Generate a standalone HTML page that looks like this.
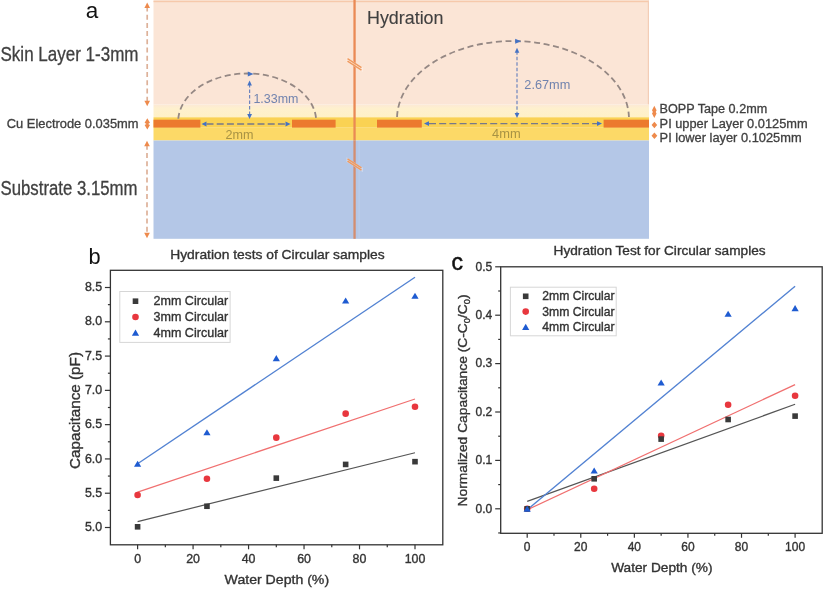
<!DOCTYPE html>
<html><head><meta charset="utf-8"><title>Hydration figure</title>
<style>html,body{margin:0;padding:0;background:#fff;} svg{display:block;font-family:"Liberation Sans", Arial, sans-serif;}</style>
</head><body>
<svg width="825" height="589" viewBox="0 0 825 589">
<rect width="825" height="589" fill="#fff"/>
<rect x="153.5" y="0" width="495.5" height="104.5" fill="#FBE5D6"/>
<rect x="153.5" y="0.8" width="495.5" height="1.4" fill="#F6C9AB"/>
<rect x="647.8" y="0.8" width="1.2" height="103.7" fill="#F3CDB6"/>
<defs><linearGradient id="gb" x1="0" y1="0" x2="0" y2="1"><stop offset="0" stop-color="#FCE9D6"/><stop offset="0.3" stop-color="#FEF0CE"/><stop offset="1" stop-color="#FFF1C6"/></linearGradient></defs>
<rect x="153.5" y="104.5" width="495.5" height="12.8" fill="url(#gb)"/>
<rect x="153.5" y="117.3" width="495.5" height="10.4" fill="#FAD253"/>
<rect x="153.5" y="127.7" width="495.5" height="12.8" fill="#FCD967"/>
<rect x="153.5" y="140.5" width="495.5" height="98.3" fill="#B4C7E7"/>
<rect x="153.5" y="119.7" width="46.9" height="7.9" fill="#EC7A2E"/>
<rect x="292" y="119.7" width="43.6" height="7.9" fill="#EC7A2E"/>
<rect x="377" y="119.7" width="44.8" height="7.9" fill="#EC7A2E"/>
<rect x="603.6" y="119.7" width="45.4" height="7.9" fill="#EC7A2E"/>
<rect x="353.4" y="0" width="2.3" height="140.5" fill="#EA8A55"/>
<rect x="353.4" y="140.5" width="2.3" height="98.3" fill="#D38E70"/>
<rect x="358.5" y="140.5" width="1.2" height="98.3" fill="#C0D2EE" opacity="0.6"/>
<path d="M346.5,57.1 L363,67.6 L363,72.1 L346.5,61.6 Z" fill="#FDF1E8" opacity="0.7"/>
<line x1="347.5" y1="58.7" x2="361.5" y2="67.7" stroke="#F09A5E" stroke-width="1.5"/>
<line x1="347.5" y1="61.1" x2="361.5" y2="70.1" stroke="#F09A5E" stroke-width="1.5"/>
<path d="M346.5,157.2 L363,167.7 L363,172.2 L346.5,161.7 Z" fill="#D6E0F2" opacity="0.7"/>
<line x1="347.5" y1="158.8" x2="361.5" y2="167.8" stroke="#F09A5E" stroke-width="1.5"/>
<line x1="347.5" y1="161.2" x2="361.5" y2="170.2" stroke="#F09A5E" stroke-width="1.5"/>
<path d="M178.30,118.8 A69,47.9 0 0 1 316.10,118.8" fill="none" stroke="#958884" stroke-width="1.8" stroke-dasharray="6 3.6"/>
<path d="M397.04,117 A116,78 0 0 1 628.96,117" fill="none" stroke="#958884" stroke-width="1.8" stroke-dasharray="6 3.6"/>
<line x1="249.6" y1="84" x2="249.6" y2="115" stroke="#6D84BE" stroke-width="1.2" stroke-dasharray="3.5 2"/>
<path d="M247.3,85.5 L249.6,80.5 L251.9,85.5 Z" fill="#4472C4"/>
<path d="M247.2,114 L249.6,119 L252.0,114 Z" fill="#4472C4"/>
<path d="M247.8,71.5 L253.6,74 L247.8,76.5 Z" fill="#4472C4"/>
<line x1="517" y1="51.2" x2="517" y2="114" stroke="#6D84BE" stroke-width="1.2" stroke-dasharray="3.5 2"/>
<path d="M514.7,52.7 L517,47.7 L519.3,52.7 Z" fill="#4472C4"/>
<path d="M514.6,113 L517,118 L519.4,113 Z" fill="#4472C4"/>
<path d="M515.2,38.7 L521,41.2 L515.2,43.7 Z" fill="#4472C4"/>
<line x1="206.5" y1="124" x2="285.5" y2="124" stroke="#76788A" stroke-width="1.3" stroke-dasharray="7 3.2"/>
<path d="M206.5,121.6 L201.5,124 L206.5,126.4 Z" fill="#4472C4"/>
<path d="M285.5,121.6 L290.5,124 L285.5,126.4 Z" fill="#4472C4"/>
<line x1="429" y1="123.6" x2="597" y2="123.6" stroke="#76788A" stroke-width="1.3" stroke-dasharray="7 3.2"/>
<path d="M429,121.2 L424,123.6 L429,126.0 Z" fill="#4472C4"/>
<path d="M597,121.2 L602,123.6 L597,126.0 Z" fill="#4472C4"/>
<text x="253.4" y="103.2" font-size="12.5" fill="#7183AE" text-anchor="start" textLength="45" lengthAdjust="spacingAndGlyphs" >1.33mm</text>
<text x="524.3" y="89.2" font-size="12.5" fill="#7183AE" text-anchor="start" textLength="46" lengthAdjust="spacingAndGlyphs" >2.67mm</text>
<text x="225.5" y="138.5" font-size="12" fill="#A89344" text-anchor="start" textLength="28" lengthAdjust="spacingAndGlyphs" >2mm</text>
<text x="492.1" y="138.1" font-size="12" fill="#A89344" text-anchor="start" textLength="28.6" lengthAdjust="spacingAndGlyphs" >4mm</text>
<text x="367" y="23.8" font-size="17.5" fill="#404040" text-anchor="start" textLength="76.5" lengthAdjust="spacingAndGlyphs"  stroke="#404040" stroke-width="0.12">Hydration</text>
<text x="85.8" y="17.8" font-size="22.5" fill="#111" text-anchor="start" >a</text>
<text x="0.5" y="60.5" font-size="20.3" fill="#404040" text-anchor="start" textLength="138" lengthAdjust="spacingAndGlyphs"  stroke="#404040" stroke-width="0.3">Skin Layer 1-3mm</text>
<text x="6.8" y="128.3" font-size="12.4" fill="#404040" text-anchor="start" textLength="131.8" lengthAdjust="spacingAndGlyphs"  stroke="#404040" stroke-width="0.3">Cu Electrode 0.035mm</text>
<text x="0.5" y="194.8" font-size="19.6" fill="#404040" text-anchor="start" textLength="137" lengthAdjust="spacingAndGlyphs"  stroke="#404040" stroke-width="0.3">Substrate 3.15mm</text>
<text x="659.6" y="112.5" font-size="12.5" fill="#404040" text-anchor="start" textLength="107.6" lengthAdjust="spacingAndGlyphs"  stroke="#404040" stroke-width="0.3">BOPP Tape 0.2mm</text>
<text x="659.6" y="128" font-size="12.5" fill="#404040" text-anchor="start" textLength="148" lengthAdjust="spacingAndGlyphs"  stroke="#404040" stroke-width="0.3">PI upper Layer 0.0125mm</text>
<text x="659.6" y="141.5" font-size="12.5" fill="#404040" text-anchor="start" textLength="142" lengthAdjust="spacingAndGlyphs"  stroke="#404040" stroke-width="0.3">PI lower layer 0.1025mm</text>
<line x1="147.2" y1="6.5" x2="147.2" y2="102.2" stroke="#DDB199" stroke-width="1.7" stroke-dasharray="5 3.2"/>
<path d="M144.4,8.0 L147.2,2.5 L150.0,8.0 Z" fill="#EE8A4C"/>
<path d="M144.4,100.7 L147.2,106.2 L150.0,100.7 Z" fill="#EE8A4C"/>
<line x1="147" y1="144.8" x2="147" y2="234.2" stroke="#DDB199" stroke-width="1.7" stroke-dasharray="5 3.2"/>
<path d="M144.2,146.3 L147,140.8 L149.8,146.3 Z" fill="#EE8A4C"/>
<path d="M144.2,232.7 L147,238.2 L149.8,232.7 Z" fill="#EE8A4C"/>
<path d="M147.3,118.2 L150.0,122.7 L148.1,123.9 L150.0,125.1 L147.3,129.6 L144.6,125.1 L146.5,123.9 L144.6,122.7 Z" fill="#EE8A4C"/>
<path d="M654.3,105.8 L656.6,110.3 L655.7,111.9 L656.6,113.5 L654.3,118 L652.0,113.5 L652.9,111.9 L652.0,110.3 Z" fill="#EE8A4C"/>
<path d="M654.4,121.8 L657.2,125.0 L657.2,125.0 L657.2,125.0 L654.4,128.2 L651.6,125.0 L651.6,125.0 L651.6,125.0 Z" fill="#EE8A4C"/>
<path d="M654.4,132.4 L657.3,135.7 L657.3,135.7 L657.3,135.7 L654.4,139 L651.5,135.7 L651.5,135.7 L651.5,135.7 Z" fill="#EE8A4C"/>
<rect x="110.4" y="270.3" width="332.4" height="274.5" fill="none" stroke="#333333" stroke-width="1.3"/>
<line x1="137.6" y1="544.8" x2="137.6" y2="549.3" stroke="#333333" stroke-width="1.2"/>
<text x="137.6" y="562.6" font-size="12.4" fill="#333" text-anchor="middle" stroke="#333" stroke-width="0.35">0</text>
<line x1="193.08" y1="544.8" x2="193.08" y2="549.3" stroke="#333333" stroke-width="1.2"/>
<text x="193.08" y="562.6" font-size="12.4" fill="#333" text-anchor="middle" stroke="#333" stroke-width="0.35">20</text>
<line x1="248.56" y1="544.8" x2="248.56" y2="549.3" stroke="#333333" stroke-width="1.2"/>
<text x="248.56" y="562.6" font-size="12.4" fill="#333" text-anchor="middle" stroke="#333" stroke-width="0.35">40</text>
<line x1="304.04" y1="544.8" x2="304.04" y2="549.3" stroke="#333333" stroke-width="1.2"/>
<text x="304.04" y="562.6" font-size="12.4" fill="#333" text-anchor="middle" stroke="#333" stroke-width="0.35">60</text>
<line x1="359.52" y1="544.8" x2="359.52" y2="549.3" stroke="#333333" stroke-width="1.2"/>
<text x="359.52" y="562.6" font-size="12.4" fill="#333" text-anchor="middle" stroke="#333" stroke-width="0.35">80</text>
<line x1="415.0" y1="544.8" x2="415.0" y2="549.3" stroke="#333333" stroke-width="1.2"/>
<text x="415.0" y="562.6" font-size="12.4" fill="#333" text-anchor="middle" stroke="#333" stroke-width="0.35">100</text>
<line x1="165.34" y1="544.8" x2="165.34" y2="547.3" stroke="#333333" stroke-width="1.2"/>
<line x1="220.82" y1="544.8" x2="220.82" y2="547.3" stroke="#333333" stroke-width="1.2"/>
<line x1="276.3" y1="544.8" x2="276.3" y2="547.3" stroke="#333333" stroke-width="1.2"/>
<line x1="331.78" y1="544.8" x2="331.78" y2="547.3" stroke="#333333" stroke-width="1.2"/>
<line x1="387.26" y1="544.8" x2="387.26" y2="547.3" stroke="#333333" stroke-width="1.2"/>
<line x1="104.9" y1="527.5" x2="110.4" y2="527.5" stroke="#333333" stroke-width="1.2"/>
<text x="102.2" y="531.1" font-size="12.4" fill="#333" text-anchor="end" stroke="#333" stroke-width="0.35">5.0</text>
<line x1="104.9" y1="493.22" x2="110.4" y2="493.22" stroke="#333333" stroke-width="1.2"/>
<text x="102.2" y="496.82" font-size="12.4" fill="#333" text-anchor="end" stroke="#333" stroke-width="0.35">5.5</text>
<line x1="104.9" y1="458.93" x2="110.4" y2="458.93" stroke="#333333" stroke-width="1.2"/>
<text x="102.2" y="462.53" font-size="12.4" fill="#333" text-anchor="end" stroke="#333" stroke-width="0.35">6.0</text>
<line x1="104.9" y1="424.64" x2="110.4" y2="424.64" stroke="#333333" stroke-width="1.2"/>
<text x="102.2" y="428.25" font-size="12.4" fill="#333" text-anchor="end" stroke="#333" stroke-width="0.35">6.5</text>
<line x1="104.9" y1="390.36" x2="110.4" y2="390.36" stroke="#333333" stroke-width="1.2"/>
<text x="102.2" y="393.96" font-size="12.4" fill="#333" text-anchor="end" stroke="#333" stroke-width="0.35">7.0</text>
<line x1="104.9" y1="356.08" x2="110.4" y2="356.08" stroke="#333333" stroke-width="1.2"/>
<text x="102.2" y="359.68" font-size="12.4" fill="#333" text-anchor="end" stroke="#333" stroke-width="0.35">7.5</text>
<line x1="104.9" y1="321.79" x2="110.4" y2="321.79" stroke="#333333" stroke-width="1.2"/>
<text x="102.2" y="325.39" font-size="12.4" fill="#333" text-anchor="end" stroke="#333" stroke-width="0.35">8.0</text>
<line x1="104.9" y1="287.5" x2="110.4" y2="287.5" stroke="#333333" stroke-width="1.2"/>
<text x="102.2" y="291.11" font-size="12.4" fill="#333" text-anchor="end" stroke="#333" stroke-width="0.35">8.5</text>
<line x1="107.9" y1="510.36" x2="110.4" y2="510.36" stroke="#333333" stroke-width="1.2"/>
<line x1="107.9" y1="476.07" x2="110.4" y2="476.07" stroke="#333333" stroke-width="1.2"/>
<line x1="107.9" y1="441.79" x2="110.4" y2="441.79" stroke="#333333" stroke-width="1.2"/>
<line x1="107.9" y1="407.5" x2="110.4" y2="407.5" stroke="#333333" stroke-width="1.2"/>
<line x1="107.9" y1="373.22" x2="110.4" y2="373.22" stroke="#333333" stroke-width="1.2"/>
<line x1="107.9" y1="338.93" x2="110.4" y2="338.93" stroke="#333333" stroke-width="1.2"/>
<line x1="107.9" y1="304.65" x2="110.4" y2="304.65" stroke="#333333" stroke-width="1.2"/>
<line x1="137.6" y1="521.6" x2="415.0" y2="452.76" stroke="#555" stroke-width="1.2"/>
<line x1="137.6" y1="492.12" x2="415.0" y2="399" stroke="#F07070" stroke-width="1.3"/>
<line x1="137.6" y1="463.73" x2="415.0" y2="277.22" stroke="#5282D2" stroke-width="1.35"/>
<rect x="134.8" y="524.01" width="5.6" height="5.6" fill="#3A3A3A"/>
<rect x="204.15" y="503.44" width="5.6" height="5.6" fill="#3A3A3A"/>
<rect x="273.5" y="475.33" width="5.6" height="5.6" fill="#3A3A3A"/>
<rect x="342.85" y="461.62" width="5.6" height="5.6" fill="#3A3A3A"/>
<rect x="412.2" y="458.87" width="5.6" height="5.6" fill="#3A3A3A"/>
<circle cx="137.6" cy="494.93" r="3.3" fill="#E8373E"/>
<circle cx="206.95" cy="478.82" r="3.3" fill="#E8373E"/>
<circle cx="276.3" cy="437.67" r="3.3" fill="#E8373E"/>
<circle cx="345.65" cy="413.67" r="3.3" fill="#E8373E"/>
<circle cx="415.0" cy="406.82" r="3.3" fill="#E8373E"/>
<path d="M134.0,466.79 L137.6,460.67 L141.2,466.79 Z" fill="#1E5BD1"/>
<path d="M203.35,435.25 L206.95,429.13 L210.55,435.25 Z" fill="#1E5BD1"/>
<path d="M272.7,361.19 L276.3,355.07 L279.9,361.19 Z" fill="#1E5BD1"/>
<path d="M342.05,303.59 L345.65,297.47 L349.25,303.59 Z" fill="#1E5BD1"/>
<path d="M411.4,298.79 L415.0,292.67 L418.6,298.79 Z" fill="#1E5BD1"/>
<rect x="119.8" y="291.5" width="110.3" height="50.9" fill="#fff" stroke="#D6D6D6" stroke-width="1"/>
<rect x="132.7" y="298.4" width="5.6" height="5.6" fill="#3A3A3A"/>
<circle cx="135.5" cy="317" r="3.3" fill="#E8373E"/>
<path d="M131.9,335.66 L135.5,329.54 L139.1,335.66 Z" fill="#1E5BD1"/>
<text x="153.5" y="305.4" font-size="12.3" fill="#333" text-anchor="start" textLength="74.6" lengthAdjust="spacingAndGlyphs"  stroke="#333" stroke-width="0.35">2mm Circular</text>
<text x="153.5" y="321.2" font-size="12.3" fill="#333" text-anchor="start" textLength="74.6" lengthAdjust="spacingAndGlyphs"  stroke="#333" stroke-width="0.35">3mm Circular</text>
<text x="153.5" y="336.8" font-size="12.3" fill="#333" text-anchor="start" textLength="74.6" lengthAdjust="spacingAndGlyphs"  stroke="#333" stroke-width="0.35">4mm Circular</text>
<text x="170.2" y="259.2" font-size="13.5" fill="#333" text-anchor="start" textLength="214.4" lengthAdjust="spacingAndGlyphs"  stroke="#333" stroke-width="0.35">Hydration tests of Circular samples</text>
<text x="224.6" y="584.1" font-size="13.5" fill="#333" text-anchor="start" textLength="104.5" lengthAdjust="spacingAndGlyphs"  stroke="#333" stroke-width="0.35">Water Depth (%)</text>
<text x="80.4" y="469" font-size="14" fill="#333" text-anchor="start" textLength="117" lengthAdjust="spacingAndGlyphs" transform="rotate(-90 80.4 469)" stroke="#333" stroke-width="0.35">Capacitance (pF)</text>
<text x="88.6" y="263.8" font-size="21.8" fill="#111" text-anchor="start" >b</text>
<rect x="500.7" y="266.8" width="321.5" height="266.5" fill="none" stroke="#333333" stroke-width="1.3"/>
<line x1="527.2" y1="533.3" x2="527.2" y2="537.8" stroke="#333333" stroke-width="1.2"/>
<text x="527.2" y="551.1" font-size="12" fill="#333" text-anchor="middle" stroke="#333" stroke-width="0.35">0</text>
<line x1="580.78" y1="533.3" x2="580.78" y2="537.8" stroke="#333333" stroke-width="1.2"/>
<text x="580.78" y="551.1" font-size="12" fill="#333" text-anchor="middle" stroke="#333" stroke-width="0.35">20</text>
<line x1="634.36" y1="533.3" x2="634.36" y2="537.8" stroke="#333333" stroke-width="1.2"/>
<text x="634.36" y="551.1" font-size="12" fill="#333" text-anchor="middle" stroke="#333" stroke-width="0.35">40</text>
<line x1="687.94" y1="533.3" x2="687.94" y2="537.8" stroke="#333333" stroke-width="1.2"/>
<text x="687.94" y="551.1" font-size="12" fill="#333" text-anchor="middle" stroke="#333" stroke-width="0.35">60</text>
<line x1="741.52" y1="533.3" x2="741.52" y2="537.8" stroke="#333333" stroke-width="1.2"/>
<text x="741.52" y="551.1" font-size="12" fill="#333" text-anchor="middle" stroke="#333" stroke-width="0.35">80</text>
<line x1="795.1" y1="533.3" x2="795.1" y2="537.8" stroke="#333333" stroke-width="1.2"/>
<text x="795.1" y="551.1" font-size="12" fill="#333" text-anchor="middle" stroke="#333" stroke-width="0.35">100</text>
<line x1="553.99" y1="533.3" x2="553.99" y2="535.8" stroke="#333333" stroke-width="1.2"/>
<line x1="607.57" y1="533.3" x2="607.57" y2="535.8" stroke="#333333" stroke-width="1.2"/>
<line x1="661.15" y1="533.3" x2="661.15" y2="535.8" stroke="#333333" stroke-width="1.2"/>
<line x1="714.73" y1="533.3" x2="714.73" y2="535.8" stroke="#333333" stroke-width="1.2"/>
<line x1="768.31" y1="533.3" x2="768.31" y2="535.8" stroke="#333333" stroke-width="1.2"/>
<line x1="495.2" y1="508.8" x2="500.7" y2="508.8" stroke="#333333" stroke-width="1.2"/>
<text x="492.3" y="512.6" font-size="12" fill="#333" text-anchor="end" stroke="#333" stroke-width="0.35">0.0</text>
<line x1="495.2" y1="460.4" x2="500.7" y2="460.4" stroke="#333333" stroke-width="1.2"/>
<text x="492.3" y="464.2" font-size="12" fill="#333" text-anchor="end" stroke="#333" stroke-width="0.35">0.1</text>
<line x1="495.2" y1="412.0" x2="500.7" y2="412.0" stroke="#333333" stroke-width="1.2"/>
<text x="492.3" y="415.8" font-size="12" fill="#333" text-anchor="end" stroke="#333" stroke-width="0.35">0.2</text>
<line x1="495.2" y1="363.6" x2="500.7" y2="363.6" stroke="#333333" stroke-width="1.2"/>
<text x="492.3" y="367.4" font-size="12" fill="#333" text-anchor="end" stroke="#333" stroke-width="0.35">0.3</text>
<line x1="495.2" y1="315.2" x2="500.7" y2="315.2" stroke="#333333" stroke-width="1.2"/>
<text x="492.3" y="319.0" font-size="12" fill="#333" text-anchor="end" stroke="#333" stroke-width="0.35">0.4</text>
<line x1="495.2" y1="266.8" x2="500.7" y2="266.8" stroke="#333333" stroke-width="1.2"/>
<text x="492.3" y="270.6" font-size="12" fill="#333" text-anchor="end" stroke="#333" stroke-width="0.35">0.5</text>
<line x1="498.2" y1="484.6" x2="500.7" y2="484.6" stroke="#333333" stroke-width="1.2"/>
<line x1="498.2" y1="436.2" x2="500.7" y2="436.2" stroke="#333333" stroke-width="1.2"/>
<line x1="498.2" y1="387.8" x2="500.7" y2="387.8" stroke="#333333" stroke-width="1.2"/>
<line x1="498.2" y1="339.4" x2="500.7" y2="339.4" stroke="#333333" stroke-width="1.2"/>
<line x1="498.2" y1="291.0" x2="500.7" y2="291.0" stroke="#333333" stroke-width="1.2"/>
<line x1="498.2" y1="532.95" x2="500.7" y2="532.95" stroke="#333333" stroke-width="1.2"/>
<line x1="527.2" y1="501.39" x2="795.1" y2="404.26" stroke="#555" stroke-width="1.2"/>
<line x1="527.2" y1="509.77" x2="795.1" y2="384.61" stroke="#F07070" stroke-width="1.3"/>
<line x1="527.2" y1="509.77" x2="795.1" y2="286.16" stroke="#5282D2" stroke-width="1.35"/>
<circle cx="527.2" cy="508.8" r="3.3" fill="#E8373E"/>
<circle cx="594.18" cy="488.71" r="3.3" fill="#E8373E"/>
<circle cx="661.15" cy="435.72" r="3.3" fill="#E8373E"/>
<circle cx="728.12" cy="404.74" r="3.3" fill="#E8373E"/>
<circle cx="795.1" cy="395.69" r="3.3" fill="#E8373E"/>
<rect x="524.4" y="506.0" width="5.6" height="5.6" fill="#3A3A3A"/>
<rect x="591.38" y="475.99" width="5.6" height="5.6" fill="#3A3A3A"/>
<rect x="658.35" y="436.3" width="5.6" height="5.6" fill="#3A3A3A"/>
<rect x="725.33" y="416.7" width="5.6" height="5.6" fill="#3A3A3A"/>
<rect x="792.3" y="413.31" width="5.6" height="5.6" fill="#3A3A3A"/>
<path d="M523.6,511.86 L527.2,505.74 L530.8,511.86 Z" fill="#1E5BD1"/>
<path d="M590.58,473.62 L594.18,467.5 L597.78,473.62 Z" fill="#1E5BD1"/>
<path d="M657.55,385.54 L661.15,379.42 L664.75,385.54 Z" fill="#1E5BD1"/>
<path d="M724.52,316.81 L728.12,310.69 L731.73,316.81 Z" fill="#1E5BD1"/>
<path d="M791.5,311.24 L795.1,305.12 L798.7,311.24 Z" fill="#1E5BD1"/>
<rect x="510.4" y="287.2" width="105.8" height="48.6" fill="#fff" stroke="#D6D6D6" stroke-width="1"/>
<rect x="522.9" y="293.5" width="5.6" height="5.6" fill="#3A3A3A"/>
<circle cx="525.7" cy="311.6" r="3.3" fill="#E8373E"/>
<path d="M522.1,329.96 L525.7,323.84 L529.3,329.96 Z" fill="#1E5BD1"/>
<text x="542.3" y="300.4" font-size="11.9" fill="#333" text-anchor="start" textLength="72.3" lengthAdjust="spacingAndGlyphs"  stroke="#333" stroke-width="0.35">2mm Circular</text>
<text x="542.3" y="315.7" font-size="11.9" fill="#333" text-anchor="start" textLength="72.3" lengthAdjust="spacingAndGlyphs"  stroke="#333" stroke-width="0.35">3mm Circular</text>
<text x="542.3" y="331" font-size="11.9" fill="#333" text-anchor="start" textLength="72.3" lengthAdjust="spacingAndGlyphs"  stroke="#333" stroke-width="0.35">4mm Circular</text>
<text x="553.6" y="254.9" font-size="13.2" fill="#333" text-anchor="start" textLength="212" lengthAdjust="spacingAndGlyphs"  stroke="#333" stroke-width="0.35">Hydration Test for Circular samples</text>
<text x="611.2" y="571.7" font-size="13.2" fill="#333" text-anchor="start" textLength="101.3" lengthAdjust="spacingAndGlyphs"  stroke="#333" stroke-width="0.35">Water Depth (%)</text>
<text x="467.2" y="506.5" font-size="12.8" fill="#333" stroke="#333" stroke-width="0.35" transform="rotate(-90 467.2 506.5)" textLength="212" lengthAdjust="spacingAndGlyphs">Normalized Capacitance (C-C<tspan font-size="8.5" dy="3">0</tspan><tspan dy="-3">/C</tspan><tspan font-size="8.5" dy="3">0</tspan><tspan dy="-3">)</tspan></text>
<text x="451.5" y="270.1" font-size="23" fill="#111" text-anchor="start" stroke="#111" stroke-width="0.5">c</text>
</svg>
</body></html>
